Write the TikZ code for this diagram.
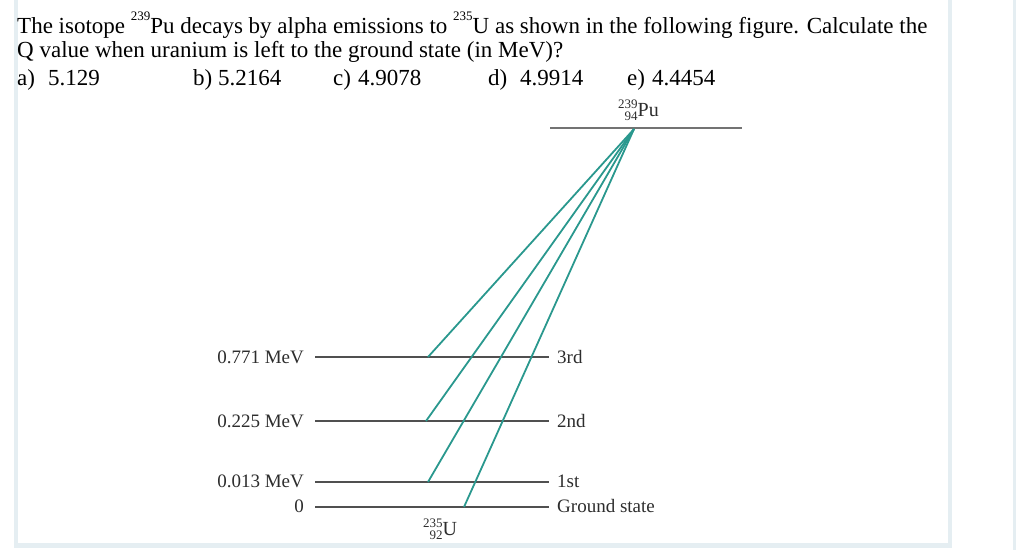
\documentclass[tikz,border=0pt]{standalone}
\usepackage{fontspec}
\setmainfont{Liberation Serif}
\definecolor{framec}{RGB}{229,238,242}
\definecolor{levelc}{RGB}{80,80,80}
\definecolor{puline}{RGB}{115,115,115}
\definecolor{alphac}{RGB}{42,152,142}
\definecolor{labc}{RGB}{45,45,45}
\newcommand\qsz{\fontsize{23}{26}\selectfont}
\newcommand\lsz{\fontsize{19}{22}\selectfont}
\newcommand\nucsz{\fontsize{13}{13}\selectfont}
\newcommand\supn[1]{\raisebox{12.5pt}{\fontsize{13}{13}\selectfont #1}}
\newcommand\nuc[3]{\begingroup\nucsz
 \setbox0\hbox{#1}\setbox2\hbox{#2}%
 \dimen0=\wd0 \ifdim\wd2>\dimen0 \dimen0=\wd2 \fi
 \rlap{\raisebox{8pt}{\hbox to\dimen0{\hfil\box0}}}%
 \raisebox{-4.5pt}{\hbox to\dimen0{\hfil\box2}}%
 \endgroup{\fontsize{20}{22}\selectfont #3}}
\begin{document}
\begin{tikzpicture}[x=1pt,y=-1pt,
  qtext/.style={anchor=base west,inner sep=0pt,font=\qsz},
  lab/.style={inner sep=0pt,font=\lsz,text=labc},
  level/.style={draw=levelc,line width=1.1pt},
  alpha/.style={draw=alphac,line width=1.8pt}]
\useasboundingbox (0,0) rectangle (1016,550);
% frame
\fill[framec] (14,0) rectangle (18,548);
\fill[framec] (948,0) rectangle (952,548);
\fill[framec] (14,543) rectangle (952,548);
\fill[framec] (1013,0) rectangle (1016,550);
% question
\node[qtext] (q1) at (17,33) {The isotope \supn{239}Pu decays by alpha emissions to \supn{235}U as shown in the following figure. Calculate the};
\node[qtext] (q2) at (17,57) {Q value when uranium is left to the ground state (in MeV)?};
\node[qtext] (oa) at (17,85) {a)};
\node[qtext] (va) at (48,85) {5.129};
\node[qtext] (ob) at (193,85) {b)};
\node[qtext] (vb) at (218,85) {5.2164};
\node[qtext] (oc) at (333,85) {c)};
\node[qtext] (vc) at (358,85) {4.9078};
\node[qtext] (od) at (488,85) {d)};
\node[qtext] (vd) at (520,85) {4.9914};
\node[qtext] (oe) at (627,85) {e)};
\node[qtext] (ve) at (652,85) {4.4454};
% levels
\coordinate (puL) at (550,128); \coordinate (puR) at (742,128);
\coordinate (l3L) at (315,357); \coordinate (l3R) at (549,357);
\coordinate (l2L) at (315,421); \coordinate (l2R) at (549,421);
\coordinate (l1L) at (315,482); \coordinate (l1R) at (549,482);
\coordinate (l0L) at (315,507); \coordinate (l0R) at (549,507);
\draw[draw=puline,line width=1.8pt] (puL) -- (puR);
\draw[level] (l3L) -- (l3R);
\draw[level] (l2L) -- (l2R);
\draw[level] (l1L) -- (l1R);
\draw[level] (l0L) -- (l0R);
% alpha lines
\coordinate (apex) at (634,129);
\coordinate (e3) at (428,357);
\coordinate (e2) at (426,421);
\coordinate (e1) at (428,482);
\coordinate (e0) at (464,507);
\draw[alpha] (apex) -- (e3);
\draw[alpha] (apex) -- (e2);
\draw[alpha] (apex) -- (e1);
\draw[alpha] (apex) -- (e0);
% labels
\node[lab,anchor=base east] (m3) at (304,363) {0.771 MeV};
\node[lab,anchor=base east] (m2) at (304,427) {0.225 MeV};
\node[lab,anchor=base east] (m1) at (304,487) {0.013 MeV};
\node[lab,anchor=base east] (m0) at (304,512) {0};
\node[lab,anchor=base west] (n3) at (557,363) {3rd};
\node[lab,anchor=base west] (n2) at (557,427) {2nd};
\node[lab,anchor=base west] (n1) at (557,487) {1st};
\node[lab,anchor=base west] (n0) at (557,512) {Ground state};
\node[lab,anchor=base west] (pu) at (618,116) {\nuc{239}{94}{Pu}};
\node[lab,anchor=base west] (u) at (423,535) {\nuc{235}{92}{U}};
\end{tikzpicture}
\end{document}
